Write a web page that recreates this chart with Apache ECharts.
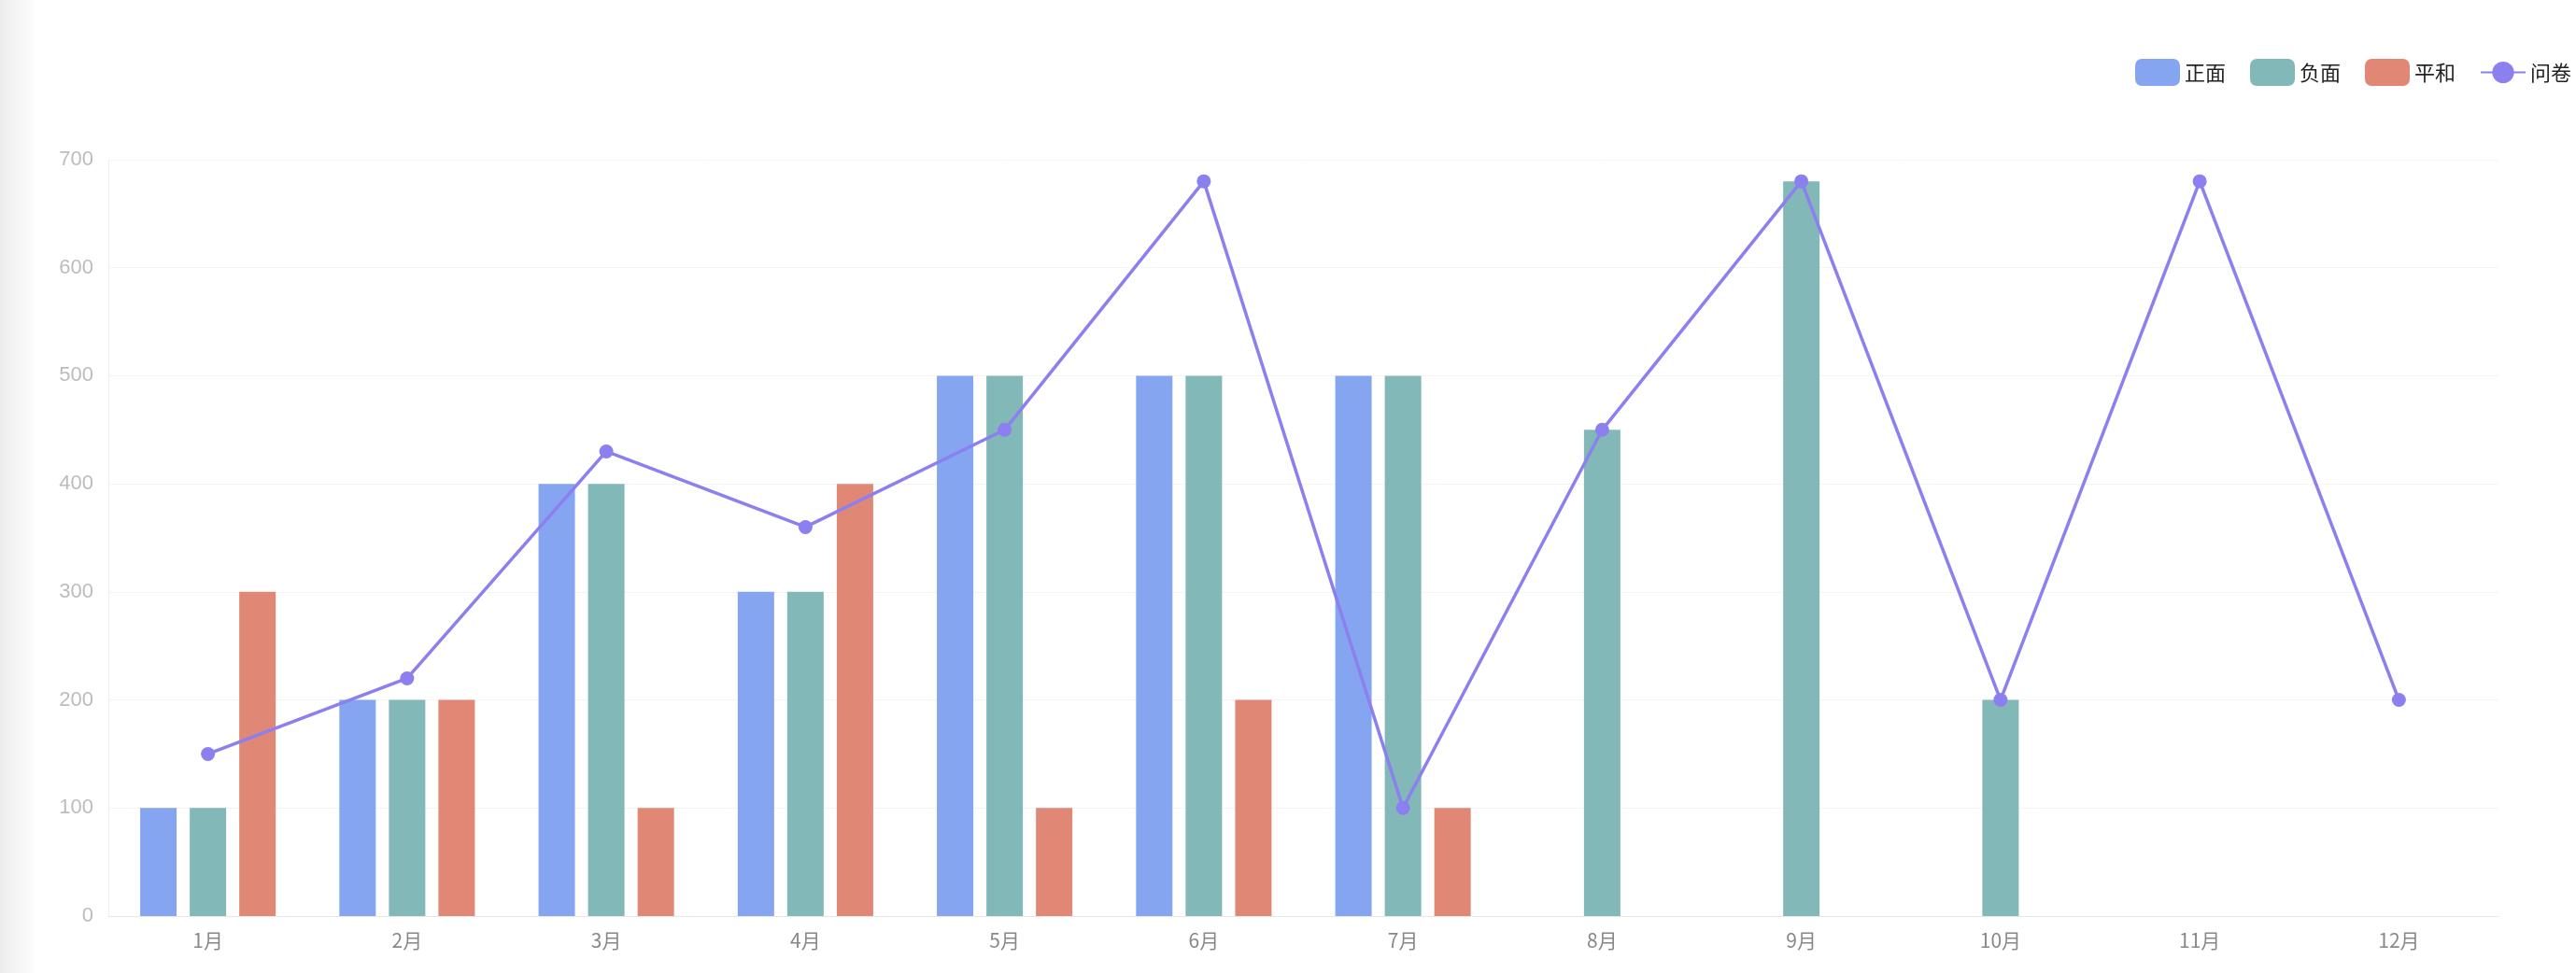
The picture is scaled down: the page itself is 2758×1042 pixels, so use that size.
<!DOCTYPE html>
<html>
<head>
<meta charset="utf-8">
<script src="https://cdn.jsdelivr.net/npm/echarts@6/dist/echarts.min.js"></script>
<style>
  html, body { margin: 0; padding: 0; background: #fff; }
  #shade { position: absolute; left: 0; top: 0; width: 40px; height: 1042px;
    background: linear-gradient(to right, #ececec, #fff); }
  #chart { position: absolute; left: 0; top: 0; width: 2758px; height: 1042px; }
</style>
</head>
<body>
<div id="shade"></div>
<div id="chart"></div>
<script>
const months = ["1月", "2月", "3月", "4月", "5月", "6月", "7月", "8月", "9月", "10月", "11月", "12月"];
const positive = [100, 200, 400, 300, 500, 500, 500, null, null, null, null, null];
const negative = [100, 200, 400, 300, 500, 500, 500, 450, 680, 200, null, null];
const neutral = [300, 200, 100, 400, 100, 200, 100, null, null, null, null, null];
const survey = [150, 220, 430, 360, 450, 680, 100, 450, 680, 200, 680, 200];

const chart = echarts.init(document.getElementById("chart"));
const barBase = { type: "bar", barWidth: 39, barGap: "36%" };

chart.setOption({
  color: ["#85a5f0", "#82b8b7", "#e08875", "#8c7ff0"],
  legend: {
    right: 0,
    top: 58,
    itemWidth: 48,
    itemHeight: 29,
    itemGap: 26,
    textStyle: { fontSize: 22, color: "#222", fontFamily: "Noto Sans CJK SC" },
    data: ["正面", "负面", "平和", "问卷"]
  },
  grid: { left: 116, right: 83, top: 171, bottom: 61 },
  xAxis: {
    type: "category",
    data: months,
    axisTick: { show: false },
    axisLine: { lineStyle: { color: "#e6e6e6" } },
    axisLabel: { fontSize: 21, color: "#888", margin: 16, fontFamily: "Noto Sans CJK SC" }
  },
  yAxis: {
    type: "value",
    min: 0,
    max: 700,
    interval: 100,
    axisLine: { show: true, lineStyle: { color: "#eeeeee" } },
    splitLine: { lineStyle: { color: "#f4f4f4" } },
    axisLabel: { fontSize: 22, color: "#bbbdbd", margin: 16 }
  },
  series: [
    Object.assign({ name: "正面", data: positive }, barBase),
    Object.assign({ name: "负面", data: negative }, barBase),
    Object.assign({ name: "平和", data: neutral }, barBase),
    {
      name: "问卷",
      type: "line",
      data: survey,
      symbol: "circle",
      symbolSize: 15,
      lineStyle: { width: 3.5 }
    }
  ]
});
</script>
</body>
</html>
